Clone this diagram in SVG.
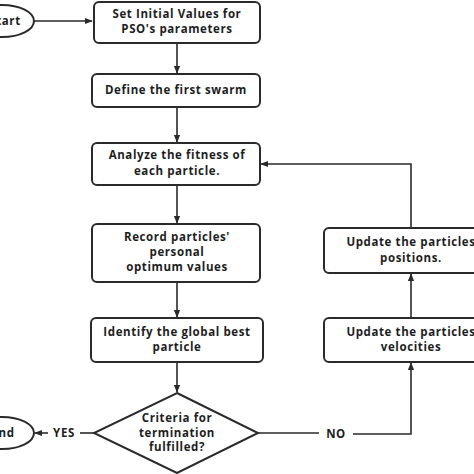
<svg xmlns="http://www.w3.org/2000/svg" width="474" height="474" viewBox="0 0 474 474">
<defs>
<marker id="ah" viewBox="0 0 10 10" refX="9" refY="5" markerWidth="5" markerHeight="5" orient="auto-start-reverse">
<path d="M0,1 L10,5 L0,9 z" fill="#2a2a2a"/>
</marker>
<style>
.box{fill:#fff;stroke:#2a2a2a;stroke-width:2}
.t{font-family:"Open Sans","DejaVu Sans",sans-serif;font-weight:bold;font-size:11.5px;fill:#1e1e1e;text-anchor:middle;letter-spacing:0.6px}
.c{fill:none;stroke:#2a2a2a;stroke-width:1.6}
</style>
</defs>
<rect width="474" height="474" fill="#fff"/>
<g id="connectors">
<path class="c" d="M34,21 H92" marker-end="url(#ah)"/>
<path class="c" d="M177,43 V73" marker-end="url(#ah)"/>
<path class="c" d="M177,107 V142" marker-end="url(#ah)"/>
<path class="c" d="M177,185 V223" marker-end="url(#ah)"/>
<path class="c" d="M177,282 V317" marker-end="url(#ah)"/>
<path class="c" d="M177,362 V392" marker-end="url(#ah)"/>
<path class="c" d="M94,433 H80"/>
<path class="c" d="M48,433 H35" marker-end="url(#ah)"/>
<path class="c" d="M258,433 H319"/>
<path class="c" d="M353,434 H411 V363" marker-end="url(#ah)"/>
<path class="c" d="M411,318 V274" marker-end="url(#ah)"/>
<path class="c" d="M411,228 V164 H261" marker-end="url(#ah)"/>
<text class="t" x="64" y="437">YES</text>
<text class="t" x="336" y="438">NO</text>
</g>
<g id="start">
<ellipse class="box" cx="2" cy="21" rx="32" ry="16"/>
<text class="t" x="5" y="25" font-size="12">Start</text>
</g>
<g id="set-initial">
<rect class="box" x="94" y="2" width="166" height="41" rx="5"/>
<text class="t" x="177" y="18">Set Initial Values for</text>
<text class="t" x="177" y="33">PSO's parameters</text>
</g>
<g id="define-swarm">
<rect class="box" x="92" y="74" width="168" height="33" rx="5"/>
<text class="t" x="176" y="94">Define the first swarm</text>
</g>
<g id="analyze">
<rect class="box" x="92" y="143" width="168" height="42" rx="5"/>
<text class="t" x="177" y="159">Analyze the fitness of</text>
<text class="t" x="177" y="175">each particle.</text>
</g>
<g id="record">
<rect class="box" x="92" y="224" width="168" height="58" rx="5"/>
<text class="t" x="177" y="241">Record particles'</text>
<text class="t" x="177" y="256">personal</text>
<text class="t" x="177" y="271">optimum values</text>
</g>
<g id="identify">
<rect class="box" x="91" y="318" width="172" height="44" rx="5"/>
<text class="t" x="177" y="336">Identify the global best</text>
<text class="t" x="177" y="351">particle</text>
</g>
<g id="criteria">
<polygon class="box" points="177,393 258,433 177,473 94,433"/>
<text class="t" x="177" y="422">Criteria for</text>
<text class="t" x="177" y="437">termination</text>
<text class="t" x="177" y="451">fulfilled?</text>
</g>
<g id="end">
<ellipse class="box" cx="2" cy="433" rx="32" ry="16"/>
<text class="t" x="3" y="437" font-size="12">End</text>
</g>
<g id="velocities">
<rect class="box" x="324" y="318" width="174" height="44" rx="5"/>
<text class="t" x="411" y="336">Update the particles</text>
<text class="t" x="411" y="351">velocities</text>
</g>
<g id="positions">
<rect class="box" x="324" y="228" width="174" height="45" rx="5"/>
<text class="t" x="411" y="246">Update the particles</text>
<text class="t" x="411" y="262">positions.</text>
</g>
</svg>
